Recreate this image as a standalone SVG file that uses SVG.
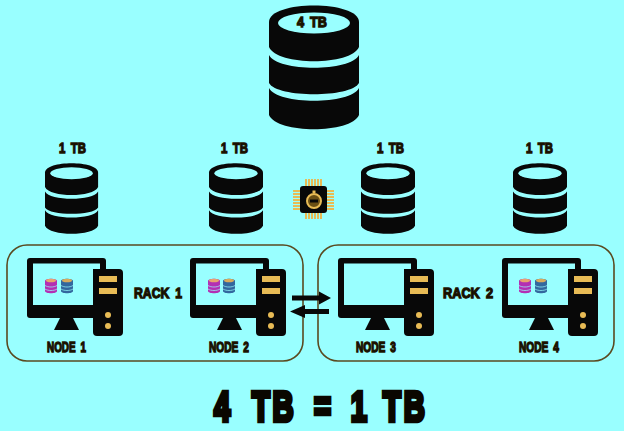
<svg xmlns="http://www.w3.org/2000/svg" width="624" height="431" viewBox="0 0 624 431">
<style>
text{font-family:"Liberation Sans",Arial,sans-serif;font-weight:700;fill:#0a0700;stroke:#1e1400;stroke-width:1.300;word-spacing:3px}
.rack{fill:none;stroke:#5a4a20;stroke-width:1.6}
.gold{fill:#e8bb55}
.ink{fill:#080808}
.sky{fill:#99ffff}
</style>
<defs>
<g id="cyl">
<path class="ink" d="M0 17C0 -5 90 -5 90 17V42C82 61 8 61 0 42Z"/>
<path class="ink" d="M0 50C8 67 82 67 90 50V78C82 93 8 93 0 78Z"/>
<path class="ink" d="M0 83C8 100 82 100 90 83V110C82 129 8 129 0 110Z"/>
<ellipse class="sky" cx="45" cy="18" rx="36" ry="10.500"/>
</g>
<g id="mini">
<path fill="#b32fb3" d="M0 3C0 0 12 0 12 3V13C12 16 0 16 0 13Z"/>
<ellipse cx="6" cy="2.500" rx="5" ry="1.800" fill="#e9a36e"/>
<path d="M0 7.500C3 9.500 9 9.500 12 7.500M0 11C3 13 9 13 12 11" fill="none" stroke="#99ffff" stroke-width=".7"/>
</g>
<g id="mini2">
<path fill="#33689e" d="M0 3C0 0 12 0 12 3V13C12 16 0 16 0 13Z"/>
<ellipse cx="6" cy="2.500" rx="5" ry="1.800" fill="#d9ab5c"/>
<path d="M0 7.500C3 9.500 9 9.500 12 7.500M0 11C3 13 9 13 12 11" fill="none" stroke="#99ffff" stroke-width=".7"/>
</g>
<g id="pc">
<rect class="ink" x="27" y="258" width="79" height="60" rx="3"/>
<path class="sky" d="M33 263.500H100V269H93V305H33Z"/>
<path class="ink" d="M60 318H73L79 330H54Z"/>
<rect class="ink" x="93" y="269" width="30" height="67" rx="4"/>
<rect class="gold" x="99" y="276" width="18" height="6"/>
<rect class="gold" x="99" y="288" width="18" height="6"/>
<circle class="gold" cx="108" cy="315" r="3"/>
<circle class="gold" cx="108" cy="326" r="3"/>
</g>
</defs>
<rect width="624" height="431" fill="#99ffff"/>

<g id="db-total">
<use href="#cyl" x="269" y="5"/>
<text x="297" y="26.500" font-size="15" textLength="30" lengthAdjust="spacingAndGlyphs">4 TB</text>
</g>

<g id="db-1">
<use href="#cyl" transform="translate(45 163) scale(.59 .57)"/>
<text x="59" y="152.500" font-size="15" textLength="27" lengthAdjust="spacingAndGlyphs">1 TB</text>
</g>
<g id="db-2">
<use href="#cyl" transform="translate(209 163) scale(.6 .57)"/>
<text x="221" y="152.500" font-size="15" textLength="27" lengthAdjust="spacingAndGlyphs">1 TB</text>
</g>
<g id="db-3">
<use href="#cyl" transform="translate(361 163) scale(.6 .57)"/>
<text x="377" y="152.500" font-size="15" textLength="27" lengthAdjust="spacingAndGlyphs">1 TB</text>
</g>
<g id="db-4">
<use href="#cyl" transform="translate(513 163) scale(.6 .57)"/>
<text x="526" y="152.500" font-size="15" textLength="27" lengthAdjust="spacingAndGlyphs">1 TB</text>
</g>

<g id="chip">
<path class="gold" d="M305 179h2v7h-2zM308 179h2v7h-2zM311 179h2v7h-2zM314 179h2v7h-2zM317 179h2v7h-2zM320 179h2v7h-2zM305 213h2v6h-2zM308 213h2v6h-2zM311 213h2v6h-2zM314 213h2v6h-2zM317 213h2v6h-2zM320 213h2v6h-2zM293 190h7v2h-7zM293 193h7v2h-7zM293 196h7v2h-7zM293 199h7v2h-7zM293 202h7v2h-7zM293 205h7v2h-7zM293 208h7v2h-7zM327 190h7v2h-7zM327 193h7v2h-7zM327 196h7v2h-7zM327 199h7v2h-7zM327 202h7v2h-7zM327 205h7v2h-7zM327 208h7v2h-7z"/>
<rect class="ink" x="300" y="186" width="27" height="27" rx="3"/>
<circle cx="314" cy="201" r="7" fill="#6a4f14" stroke="#e8bb55" stroke-width="2"/>
<rect class="ink" x="310" y="199.500" width="8" height="3"/>
<rect class="gold" x="312.500" y="190.500" width="3" height="2.500"/>
</g>

<g id="rack-1">
<rect class="rack" x="7" y="245" width="296" height="116" rx="20"/>
<text x="134" y="297.500" font-size="15" textLength="48" lengthAdjust="spacingAndGlyphs">RACK 1</text>
</g>
<g id="rack-2">
<rect class="rack" x="318" y="245" width="296" height="116" rx="20"/>
<text x="443" y="298" font-size="15" textLength="50" lengthAdjust="spacingAndGlyphs">RACK 2</text>
</g>

<g id="node-1">
<use href="#pc"/>
<use href="#mini" x="45" y="278"/><use href="#mini2" x="61" y="278"/>
<text x="47" y="351.500" font-size="14" textLength="39" lengthAdjust="spacingAndGlyphs">NODE 1</text>
</g>
<g id="node-2">
<use href="#pc" x="163"/>
<use href="#mini" x="208" y="278"/><use href="#mini2" x="223" y="278"/>
<text x="209" y="351.500" font-size="14" textLength="40" lengthAdjust="spacingAndGlyphs">NODE 2</text>
</g>
<g id="node-3">
<use href="#pc" x="311"/>
<text x="356" y="351.500" font-size="14" textLength="40" lengthAdjust="spacingAndGlyphs">NODE 3</text>
</g>
<g id="node-4">
<use href="#pc" x="475"/>
<use href="#mini" x="519" y="278"/><use href="#mini2" x="535" y="278"/>
<text x="519" y="351.500" font-size="14" textLength="40" lengthAdjust="spacingAndGlyphs">NODE 4</text>
</g>

<g id="connectors">
<path class="ink" d="M292 295.500H319V291.500L331 298L319 304.500V300.500H292Z"/>
<path class="ink" d="M329 309H305V305L290 311.500L305 318V314H329Z"/>
</g>

<text id="equation" transform="translate(214 421) scale(.68 1)" x="0 0 56 86 0 147 0 201 0 248.500 279" y="0" font-size="43" style="stroke:#0a0700;stroke-width:4.500px;word-spacing:0">4 TB = 1 TB</text>
</svg>
